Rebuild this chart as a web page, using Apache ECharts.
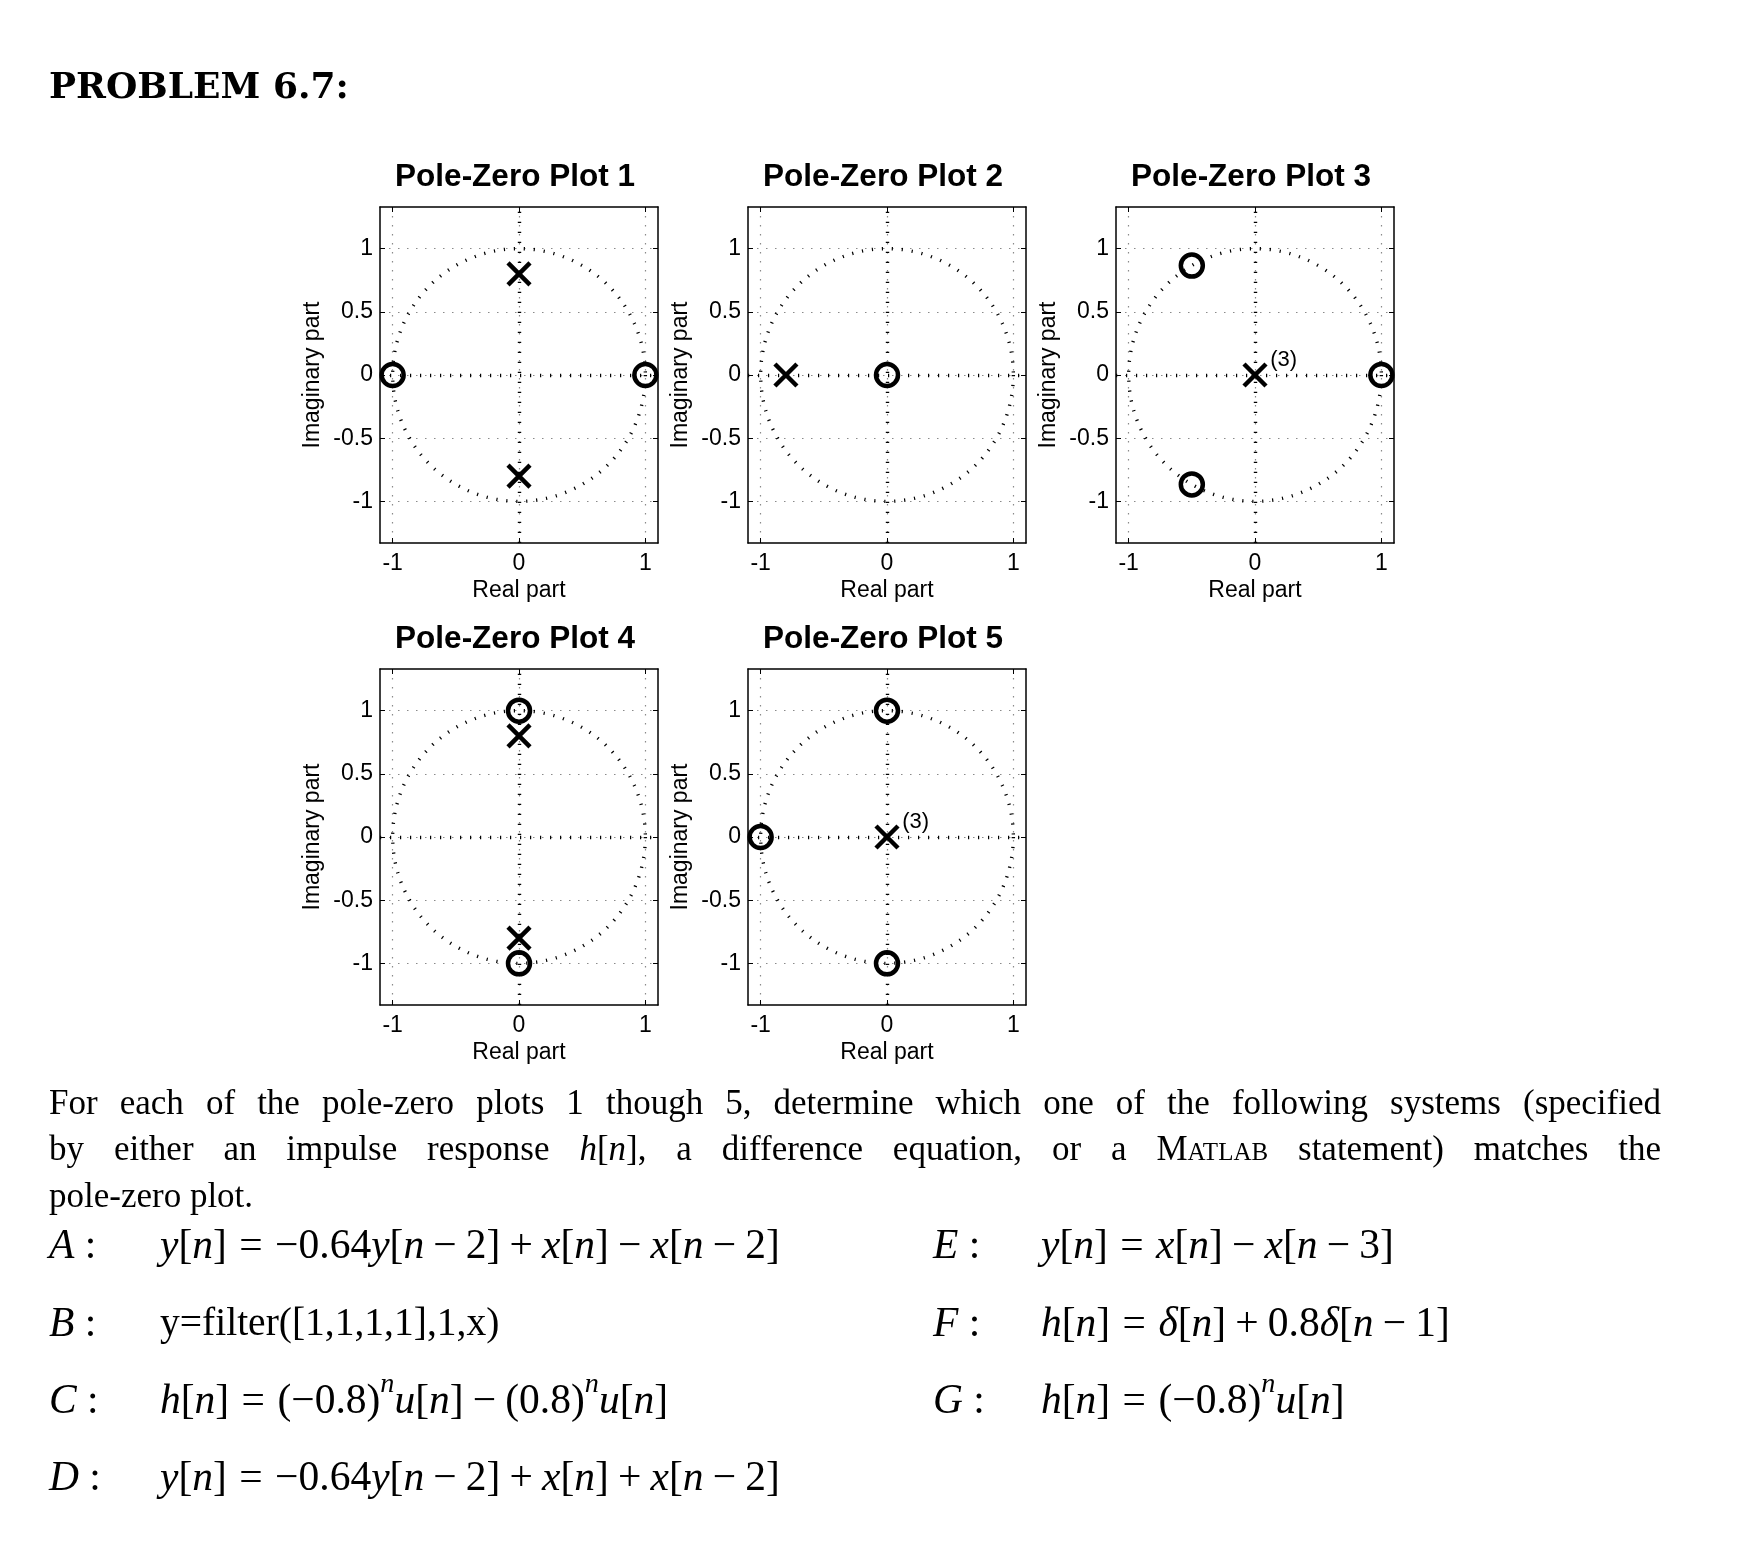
<!DOCTYPE html>
<html>
<head>
    <meta charset="utf-8">
    <title>Pole-Zero Plots</title>
    <script src="https://cdn.jsdelivr.net/npm/echarts@6/dist/echarts.min.js"></script>
    <style>
        body { margin: 0; background: #fff; }
        #page { position: relative; width: 1752px; height: 1550px; overflow: hidden; }
        #chart { position: absolute; left: 0; top: 0; width: 1752px; height: 1550px; }
        .txt { position: absolute; color: #000; font-family: "Liberation Serif", serif; white-space: nowrap; }
        .head { left: 49px; top: 62px; font-family: "DejaVu Serif", serif; font-weight: bold; font-size: 36px; line-height: 46px; }
        .prose { left: 49px; width: 1612px; font-size: 35px; line-height: 40px; text-align: justify; text-align-last: justify; }
        .prose.last { text-align-last: left; }
        .eq { font-size: 41.5px; line-height: 40px; }
        .eq i { font-style: italic; }
        .r { margin: 0 0.3em; }
        .b { margin: 0 0.22em; }
        sup { font-size: 0.68em; vertical-align: 0; position: relative; top: -0.75em; }
        .sc { font-variant: small-caps; }
    </style>
</head>
<body>
<div id="page">
    <div id="chart"></div>

    <div class="txt head">PROBLEM 6.7:</div>

    <div class="txt prose" style="top:1083px;">For each of the pole-zero plots 1 though 5, determine which one of the following systems (specified</div>
    <div class="txt prose" style="top:1129px;">by either an impulse response <i>h</i>[<i>n</i>], a difference equation, or a <span class="sc">Matlab</span> statement) matches the</div>
    <div class="txt prose last" style="top:1176px;">pole-zero plot.</div>

    <!-- systems, left column -->
    <div class="txt eq" style="left:49px; top:1224px;"><i>A</i> :</div>
    <div class="txt eq" style="left:160px; top:1224px;"><i>y</i>[<i>n</i>]<span class="r">=</span>&minus;0.64<i>y</i>[<i>n</i><span class="b">&minus;</span>2]<span class="b">+</span><i>x</i>[<i>n</i>]<span class="b">&minus;</span><i>x</i>[<i>n</i><span class="b">&minus;</span>2]</div>

    <div class="txt eq" style="left:49px; top:1302px;"><i>B</i> :</div>
    <div class="txt eq" style="left:160px; top:1302px; font-size:39.5px;">y=filter([1,1,1,1],1,x)</div>

    <div class="txt eq" style="left:49px; top:1379px;"><i>C</i> :</div>
    <div class="txt eq" style="left:160px; top:1379px;"><i>h</i>[<i>n</i>]<span class="r">=</span>(&minus;0.8)<sup><i>n</i></sup><i>u</i>[<i>n</i>]<span class="b">&minus;</span>(0.8)<sup><i>n</i></sup><i>u</i>[<i>n</i>]</div>

    <div class="txt eq" style="left:49px; top:1456px;"><i>D</i> :</div>
    <div class="txt eq" style="left:160px; top:1456px;"><i>y</i>[<i>n</i>]<span class="r">=</span>&minus;0.64<i>y</i>[<i>n</i><span class="b">&minus;</span>2]<span class="b">+</span><i>x</i>[<i>n</i>]<span class="b">+</span><i>x</i>[<i>n</i><span class="b">&minus;</span>2]</div>

    <!-- systems, right column -->
    <div class="txt eq" style="left:933px; top:1224px;"><i>E</i> :</div>
    <div class="txt eq" style="left:1041px; top:1224px;"><i>y</i>[<i>n</i>]<span class="r">=</span><i>x</i>[<i>n</i>]<span class="b">&minus;</span><i>x</i>[<i>n</i><span class="b">&minus;</span>3]</div>

    <div class="txt eq" style="left:933px; top:1302px;"><i>F</i> :</div>
    <div class="txt eq" style="left:1041px; top:1302px;"><i>h</i>[<i>n</i>]<span class="r">=</span><i>&delta;</i>[<i>n</i>]<span class="b">+</span>0.8<i>&delta;</i>[<i>n</i><span class="b">&minus;</span>1]</div>

    <div class="txt eq" style="left:933px; top:1379px;"><i>G</i> :</div>
    <div class="txt eq" style="left:1041px; top:1379px;"><i>h</i>[<i>n</i>]<span class="r">=</span>(&minus;0.8)<sup><i>n</i></sup><i>u</i>[<i>n</i>]</div>
</div>

<script type="text/javascript">
    var plotTitles = ['Pole-Zero Plot 1', 'Pole-Zero Plot 2', 'Pole-Zero Plot 3', 'Pole-Zero Plot 4', 'Pole-Zero Plot 5'];
    var realTicks = [-1, 0, 1];
    var imagTicks = [-1, -0.5, 0, 0.5, 1];
    var realRange = [-1.1, 1.1];
    var imagRange = [-1.33, 1.33];
    var unitRadius = 1;

    // zeros / poles as [real, imag]
    var zeros1 = [[-1, 0], [1, 0]];
    var poles1 = [[0, 0.8], [0, -0.8]];
    var zeros2 = [[0, 0]];
    var poles2 = [[-0.8, 0]];
    var zeros3 = [[-0.5, 0.866], [-0.5, -0.866], [1, 0]];
    var poles3 = [[0, 0]];
    var zeros4 = [[0, 1], [0, -1]];
    var poles4 = [[0, 0.8], [0, -0.8]];
    var zeros5 = [[-1, 0], [0, 1], [0, -1]];
    var poles5 = [[0, 0]];

    // multiplicity of each pole
    var poleOrder1 = [1, 1];
    var poleOrder2 = [1];
    var poleOrder3 = [3];
    var poleOrder4 = [1, 1];
    var poleOrder5 = [3];

    var allZeros = [zeros1, zeros2, zeros3, zeros4, zeros5];
    var allPoles = [poles1, poles2, poles3, poles4, poles5];
    var allOrders = [poleOrder1, poleOrder2, poleOrder3, poleOrder4, poleOrder5];

    // layout
    var boxes = [[380, 207], [748, 207], [1116, 207], [380, 669], [748, 669]];
    var boxW = 278, boxH = 336;
    var sans = '"Liberation Sans", Arial, sans-serif';
    var crossPath = 'path://M0,0L10,10M10,0L0,10';

    function frameAxis(i, pos, range, ticks, withTicks) {
        return {
            gridIndex: i, type: 'value', position: pos,
            min: range[0], max: range[1],
            axisLine: { show: true, onZero: false, lineStyle: { color: '#000', width: 1.5 } },
            axisTick: withTicks
                ? { show: true, inside: true, length: 5, customValues: ticks.slice(), lineStyle: { color: '#000', width: 1 } }
                : { show: false },
            axisLabel: { show: false },
            splitLine: { show: false }
        };
    }

    function buildOption(sideTicks) {
        var grids = [], xAxes = [], yAxes = [], titles = [], series = [];
        for (var i = 0; i < boxes.length; i++) {
            var left = boxes[i][0], top = boxes[i][1];
            grids.push({ left: left, top: top, width: boxW, height: boxH });

            titles.push({
                text: plotTitles[i], left: left + boxW / 2 - 4, top: top - 30,
                textAlign: 'center', textVerticalAlign: 'middle', padding: 0,
                textStyle: { fontFamily: sans, fontWeight: 'bold', fontSize: 31.5, color: '#000' }
            });

            xAxes.push({
                gridIndex: i, type: 'value', position: 'bottom',
                min: realRange[0], max: realRange[1],
                name: 'Real part', nameLocation: 'middle', nameGap: 36,
                nameTextStyle: { fontFamily: sans, fontSize: 23, color: '#000' },
                axisLine: { show: true, onZero: false, lineStyle: { color: '#000', width: 1.5 } },
                axisTick: { show: true, inside: true, length: 5, customValues: realTicks.slice(), lineStyle: { color: '#000', width: 1 } },
                axisLabel: { customValues: realTicks.slice(), margin: 9, fontFamily: sans, fontSize: 23, color: '#000' },
                splitLine: { show: true, lineStyle: { color: '#8a8a8a', width: 1.2, type: [1.5, 7.5] } }
            });
            xAxes.push(frameAxis(i, 'top', realRange, realTicks, sideTicks));

            yAxes.push({
                gridIndex: i, type: 'value', position: 'left',
                min: imagRange[0], max: imagRange[1],
                name: 'Imaginary part', nameLocation: 'middle', nameGap: 56,
                nameTextStyle: { fontFamily: sans, fontSize: 23, color: '#000' },
                axisLine: { show: true, onZero: false, lineStyle: { color: '#000', width: 1.5 } },
                axisTick: { show: true, inside: true, length: 5, customValues: imagTicks.slice(), lineStyle: { color: '#000', width: 1 } },
                axisLabel: { customValues: imagTicks.slice(), margin: 7, fontFamily: sans, fontSize: 23, color: '#000' },
                splitLine: { show: true, lineStyle: { color: '#8a8a8a', width: 1.2, type: [1.5, 7.5] } }
            });
            yAxes.push(frameAxis(i, 'right', imagRange, imagTicks, sideTicks));

            var ax = 2 * i;

            // unit circle
            series.push({
                type: 'custom', xAxisIndex: ax, yAxisIndex: ax,
                silent: true, z: 2, data: [[0, 0]],
                renderItem: function (params, api) {
                    var c = api.coord([api.value(0), api.value(1)]);
                    var s = api.size([unitRadius, unitRadius]);
                    return {
                        type: 'circle',
                        shape: { cx: c[0], cy: c[1], r: s[0] },
                        style: { fill: 'none', stroke: '#000', lineWidth: 3.4, lineDash: [1.2, 8.8] }
                    };
                }
            });

            // zeros, plus the real / imaginary axes through the origin
            series.push({
                type: 'scatter', xAxisIndex: ax, yAxisIndex: ax, z: 5, silent: true,
                symbol: 'circle', symbolSize: 22,
                itemStyle: { color: 'rgba(0,0,0,0)', borderColor: '#000', borderWidth: 4.5, opacity: 1 },
                data: allZeros[i].map(function (p) { return p.slice(); }),
                markLine: {
                    silent: true, symbol: ['none', 'none'], label: { show: false },
                    lineStyle: { color: '#000', width: 3.4, type: [1.2, 8.8], opacity: 1 },
                    data: [{ xAxis: 0 }, { yAxis: 0 }]
                }
            });

            // poles
            var orders = allOrders[i];
            series.push({
                type: 'scatter', xAxisIndex: ax, yAxisIndex: ax, z: 5, silent: true,
                symbol: crossPath, symbolSize: 22,
                itemStyle: { color: 'rgba(0,0,0,0)', borderColor: '#000', borderWidth: 4.5, opacity: 1 },
                data: allPoles[i].map(function (p, k) {
                    var item = { value: p.slice() };
                    if (orders[k] > 1) {
                        item.label = {
                            show: true, formatter: '(' + orders[k] + ')',
                            position: 'right', distance: 2, offset: [0, -15],
                            fontFamily: sans, fontSize: 22, color: '#000'
                        };
                    }
                    return item;
                })
            });
        }
        return {
            backgroundColor: '#fff', animation: false,
            title: titles, grid: grids, xAxis: xAxes, yAxis: yAxes, series: series
        };
    }

    var chartDom = document.getElementById('chart');
    var myChart = echarts.init(chartDom);
    try {
        myChart.setOption(buildOption(true));
    } catch (e) {
        // 出错时不画上/右两侧的刻度
        myChart.dispose();
        myChart = echarts.init(chartDom);
        myChart.setOption(buildOption(false));
    }
</script>
</body>
</html>
